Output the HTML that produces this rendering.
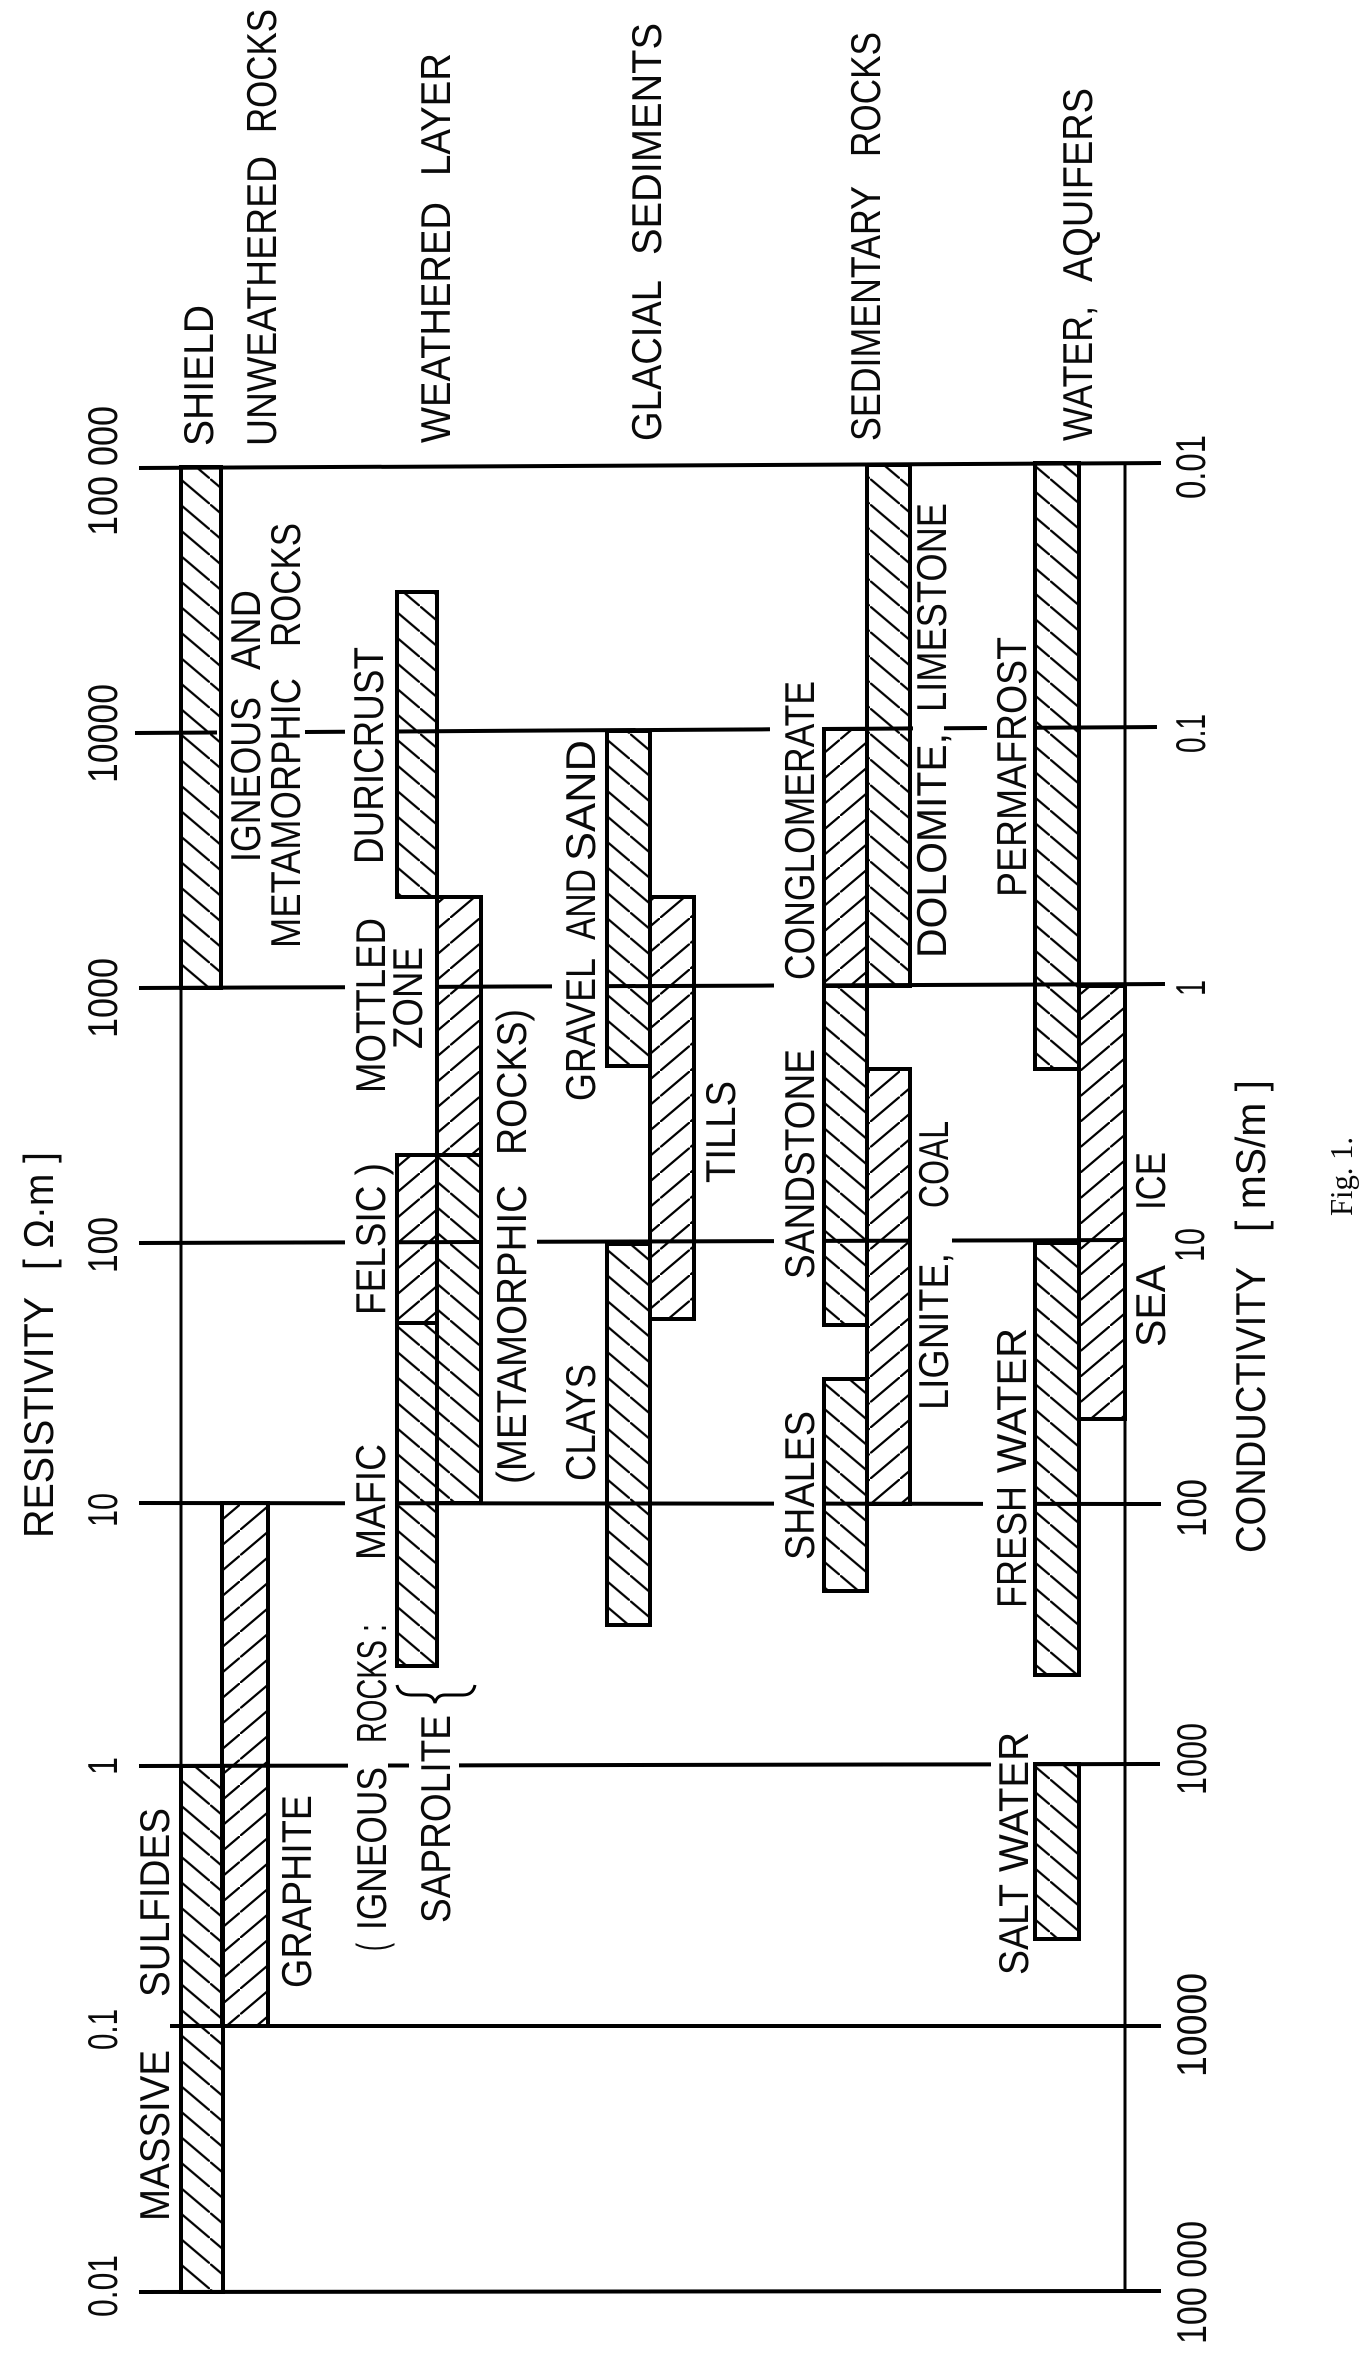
<!DOCTYPE html>
<html>
<head>
<meta charset="utf-8">
<style>
html,body{margin:0;padding:0;background:#fff;width:1364px;height:2355px;overflow:hidden}
svg{display:block}
text{font-family:"Liberation Sans",sans-serif;font-size:42px;fill:#0a0a0a}
.b{stroke:#000;stroke-width:4}
.t{stroke:#000;stroke-width:4;fill:none}
</style>
</head>
<body>
<svg xmlns="http://www.w3.org/2000/svg" width="1364" height="2355" viewBox="0 0 1364 2355">
<defs>
<pattern id="a" patternUnits="userSpaceOnUse" width="30" height="25.5" patternTransform="translate(0,19.7)">
<line x1="-3" y1="-2.55" x2="33" y2="28.05" stroke="#000" stroke-width="2.2"/>
</pattern>
<pattern id="c" patternUnits="userSpaceOnUse" width="30" height="25.5">
<line x1="-3" y1="28.05" x2="33" y2="-2.55" stroke="#000" stroke-width="2.2"/>
</pattern>
</defs>
<rect width="1364" height="2355" fill="#fff"/>

<!-- long verticals -->
<line x1="181" y1="468" x2="181" y2="2292" stroke="#000" stroke-width="3"/>
<line x1="1125" y1="463" x2="1125" y2="2291" stroke="#000" stroke-width="3"/>

<!-- bars -->
<g class="b">
<rect x="181" y="467" width="40" height="521" fill="url(#a)"/>
<rect x="181" y="1766" width="42" height="526" fill="url(#a)"/>
<rect x="222" y="1503" width="46" height="523" fill="url(#c)"/>
<rect x="397" y="592" width="40" height="305" fill="url(#a)"/>
<rect x="437" y="897" width="44" height="258" fill="url(#c)"/>
<rect x="437" y="1155" width="44" height="348" fill="url(#a)"/>
<rect x="397" y="1155" width="40" height="168" fill="url(#c)"/>
<rect x="397" y="1323" width="40" height="343" fill="url(#a)"/>
<rect x="607" y="731" width="43" height="335" fill="url(#a)"/>
<rect x="650" y="897" width="44" height="422" fill="url(#c)"/>
<rect x="607" y="1244" width="43" height="381" fill="url(#a)"/>
<rect x="824" y="729" width="43" height="257" fill="url(#c)"/>
<rect x="867" y="465" width="43" height="521" fill="url(#a)"/>
<rect x="824" y="986" width="43" height="339" fill="url(#a)"/>
<rect x="867" y="1069" width="43" height="435" fill="url(#c)"/>
<rect x="824" y="1379" width="43" height="212" fill="url(#a)"/>
<rect x="1035" y="463" width="44" height="606" fill="url(#a)"/>
<rect x="1079" y="986" width="46" height="433" fill="url(#c)"/>
<rect x="1035" y="1243" width="44" height="432" fill="url(#a)"/>
<rect x="1035" y="1764" width="44" height="175" fill="url(#a)"/>
</g>

<!-- ticks -->
<g class="t">
<line x1="139" y1="468" x2="1161" y2="463"/>
<line x1="135" y1="733" x2="1157" y2="727" stroke-dasharray="82 88 40 52 373 52 91 31 43 48 122"/>
<line x1="139" y1="988" x2="1165" y2="984" stroke-dasharray="206 92 115 55 167 50 341"/>
<line x1="139" y1="1243" x2="1125" y2="1240" stroke-dasharray="206 52 84 56 237 50 87 41 173"/>
<line x1="139" y1="1503" x2="1161" y2="1504" stroke-dasharray="206 52 377 50 159 52 126"/>
<line x1="139" y1="1766" x2="1161" y2="1764" stroke-dasharray="209 40 21 50 532 43 126"/>
<line x1="170" y1="2026" x2="1161" y2="2026"/>
<line x1="139" y1="2292" x2="1161" y2="2291"/>
</g>

<!-- brace -->
<path d="M397 1685 Q399 1695 411 1695 H425 Q433 1695 435 1703 Q437 1695 445 1695 H463 Q473 1695 475 1685" fill="none" stroke="#000" stroke-width="3"/>

<!-- top headings -->
<text transform="translate(213,446) rotate(-90)" textLength="141" lengthAdjust="spacingAndGlyphs">SHIELD</text>
<text transform="translate(276,446) rotate(-90)" textLength="290" lengthAdjust="spacingAndGlyphs">UNWEATHERED</text>
<text transform="translate(276,133) rotate(-90)" textLength="124" lengthAdjust="spacingAndGlyphs">ROCKS</text>
<text transform="translate(450,443) rotate(-90)" textLength="241" lengthAdjust="spacingAndGlyphs">WEATHERED</text>
<text transform="translate(450,176) rotate(-90)" textLength="123" lengthAdjust="spacingAndGlyphs">LAYER</text>
<text transform="translate(661,441) rotate(-90)" textLength="161" lengthAdjust="spacingAndGlyphs">GLACIAL</text>
<text transform="translate(661,255) rotate(-90)" textLength="232" lengthAdjust="spacingAndGlyphs">SEDIMENTS</text>
<text transform="translate(880,441) rotate(-90)" textLength="255" lengthAdjust="spacingAndGlyphs">SEDIMENTARY</text>
<text transform="translate(880,157) rotate(-90)" textLength="125" lengthAdjust="spacingAndGlyphs">ROCKS</text>
<text transform="translate(1092,441) rotate(-90)" textLength="135" lengthAdjust="spacingAndGlyphs">WATER,</text>
<text transform="translate(1092,282) rotate(-90)" textLength="194" lengthAdjust="spacingAndGlyphs">AQUIFERS</text>

<!-- left axis numbers -->
<text transform="translate(117,536) rotate(-90)" textLength="130" lengthAdjust="spacingAndGlyphs">100 000</text>
<text transform="translate(117,783) rotate(-90)" textLength="99" lengthAdjust="spacingAndGlyphs">10000</text>
<text transform="translate(117,1038) rotate(-90)" textLength="80" lengthAdjust="spacingAndGlyphs">1000</text>
<text transform="translate(117,1273) rotate(-90)" textLength="56" lengthAdjust="spacingAndGlyphs">100</text>
<text transform="translate(117,1527) rotate(-90)" textLength="34" lengthAdjust="spacingAndGlyphs">10</text>
<text transform="translate(117,1775) rotate(-90)" textLength="18" lengthAdjust="spacingAndGlyphs">1</text>
<text transform="translate(117,2050) rotate(-90)" textLength="41" lengthAdjust="spacingAndGlyphs">0.1</text>
<text transform="translate(117,2317) rotate(-90)" textLength="62" lengthAdjust="spacingAndGlyphs">0.01</text>

<!-- right axis numbers -->
<text transform="translate(1205,499) rotate(-90)" textLength="64" lengthAdjust="spacingAndGlyphs">0.01</text>
<text transform="translate(1205,753) rotate(-90)" textLength="39" lengthAdjust="spacingAndGlyphs">0.1</text>
<text transform="translate(1205,996) rotate(-90)" textLength="16" lengthAdjust="spacingAndGlyphs">1</text>
<text transform="translate(1204,1262) rotate(-90)" textLength="34" lengthAdjust="spacingAndGlyphs">10</text>
<text transform="translate(1206,1537) rotate(-90)" textLength="58" lengthAdjust="spacingAndGlyphs">100</text>
<text transform="translate(1206,1795) rotate(-90)" textLength="72" lengthAdjust="spacingAndGlyphs">1000</text>
<text transform="translate(1206,2077) rotate(-90)" textLength="104" lengthAdjust="spacingAndGlyphs">10000</text>
<text transform="translate(1206,2344) rotate(-90)" textLength="123" lengthAdjust="spacingAndGlyphs">100 000</text>

<!-- axis titles -->
<text transform="translate(53,1538) rotate(-90)" textLength="241" lengthAdjust="spacingAndGlyphs">RESISTIVITY</text>
<text transform="translate(53,1270) rotate(-90)" textLength="118" lengthAdjust="spacingAndGlyphs">[ Ω·m ]</text>
<text transform="translate(1265,1553) rotate(-90)" textLength="286" lengthAdjust="spacingAndGlyphs">CONDUCTIVITY</text>
<text transform="translate(1265,1232) rotate(-90)" textLength="152" lengthAdjust="spacingAndGlyphs">[ mS/m ]</text>
<text transform="translate(1352,1216) rotate(-90)" textLength="79" lengthAdjust="spacingAndGlyphs" style="font-family:'Liberation Serif',serif;font-size:32px">Fig. 1.</text>

<!-- labels -->
<text transform="translate(260,862) rotate(-90)" textLength="165" lengthAdjust="spacingAndGlyphs">IGNEOUS</text>
<text transform="translate(260,670) rotate(-90)" textLength="80" lengthAdjust="spacingAndGlyphs">AND</text>
<text transform="translate(300,948) rotate(-90)" textLength="270" lengthAdjust="spacingAndGlyphs">METAMORPHIC</text>
<text transform="translate(300,647) rotate(-90)" textLength="124" lengthAdjust="spacingAndGlyphs">ROCKS</text>
<text transform="translate(383,864) rotate(-90)" textLength="217" lengthAdjust="spacingAndGlyphs">DURICRUST</text>
<text transform="translate(385,1093) rotate(-90)" textLength="175" lengthAdjust="spacingAndGlyphs">MOTTLED</text>
<text transform="translate(422,1049) rotate(-90)" textLength="102" lengthAdjust="spacingAndGlyphs">ZONE</text>
<text transform="translate(526,1484) rotate(-90)" textLength="299" lengthAdjust="spacingAndGlyphs">(METAMORPHIC</text>
<text transform="translate(526,1155) rotate(-90)" textLength="146" lengthAdjust="spacingAndGlyphs">ROCKS)</text>
<text transform="translate(385,1315) rotate(-90)" textLength="152" lengthAdjust="spacingAndGlyphs">FELSIC )</text>
<text transform="translate(385,1560) rotate(-90)" textLength="116" lengthAdjust="spacingAndGlyphs">MAFIC</text>
<text transform="translate(386,1951) rotate(-90)" textLength="8" lengthAdjust="spacingAndGlyphs">(</text>
<text transform="translate(386,1930) rotate(-90)" textLength="163" lengthAdjust="spacingAndGlyphs">IGNEOUS</text>
<text transform="translate(386,1743) rotate(-90)" textLength="119" lengthAdjust="spacingAndGlyphs">ROCKS :</text>
<text transform="translate(450,1923) rotate(-90)" textLength="208" lengthAdjust="spacingAndGlyphs">SAPROLITE</text>
<text transform="translate(595,1101) rotate(-90)" textLength="143" lengthAdjust="spacingAndGlyphs">GRAVEL</text>
<text transform="translate(595,940) rotate(-90)" textLength="71" lengthAdjust="spacingAndGlyphs">AND</text>
<text transform="translate(595,861) rotate(-90)" textLength="121" lengthAdjust="spacingAndGlyphs">SAND</text>
<text transform="translate(735,1183) rotate(-90)" textLength="102" lengthAdjust="spacingAndGlyphs">TILLS</text>
<text transform="translate(595,1481) rotate(-90)" textLength="117" lengthAdjust="spacingAndGlyphs">CLAYS</text>
<text transform="translate(814,980) rotate(-90)" textLength="299" lengthAdjust="spacingAndGlyphs">CONGLOMERATE</text>
<text transform="translate(814,1279) rotate(-90)" textLength="230" lengthAdjust="spacingAndGlyphs">SANDSTONE</text>
<text transform="translate(814,1560) rotate(-90)" textLength="149" lengthAdjust="spacingAndGlyphs">SHALES</text>
<text transform="translate(946,958) rotate(-90)" textLength="225" lengthAdjust="spacingAndGlyphs">DOLOMITE,</text>
<text transform="translate(946,712) rotate(-90)" textLength="209" lengthAdjust="spacingAndGlyphs">LIMESTONE</text>
<text transform="translate(948,1410) rotate(-90)" textLength="157" lengthAdjust="spacingAndGlyphs">LIGNITE,</text>
<text transform="translate(948,1208) rotate(-90)" textLength="87" lengthAdjust="spacingAndGlyphs">COAL</text>
<text transform="translate(1026,897) rotate(-90)" textLength="260" lengthAdjust="spacingAndGlyphs">PERMAFROST</text>
<text transform="translate(1026,1608) rotate(-90)" textLength="122" lengthAdjust="spacingAndGlyphs">FRESH</text>
<text transform="translate(1026,1473) rotate(-90)" textLength="145" lengthAdjust="spacingAndGlyphs">WATER</text>
<text transform="translate(1165,1347) rotate(-90)" textLength="82" lengthAdjust="spacingAndGlyphs">SEA</text>
<text transform="translate(1165,1210) rotate(-90)" textLength="58" lengthAdjust="spacingAndGlyphs">ICE</text>
<text transform="translate(1028,1975) rotate(-90)" textLength="91" lengthAdjust="spacingAndGlyphs">SALT</text>
<text transform="translate(1028,1872) rotate(-90)" textLength="140" lengthAdjust="spacingAndGlyphs">WATER</text>
<text transform="translate(169,2221) rotate(-90)" textLength="171" lengthAdjust="spacingAndGlyphs">MASSIVE</text>
<text transform="translate(169,1997) rotate(-90)" textLength="189" lengthAdjust="spacingAndGlyphs">SULFIDES</text>
<text transform="translate(311,1988) rotate(-90)" textLength="193" lengthAdjust="spacingAndGlyphs">GRAPHITE</text>
</svg>
</body>
</html>
